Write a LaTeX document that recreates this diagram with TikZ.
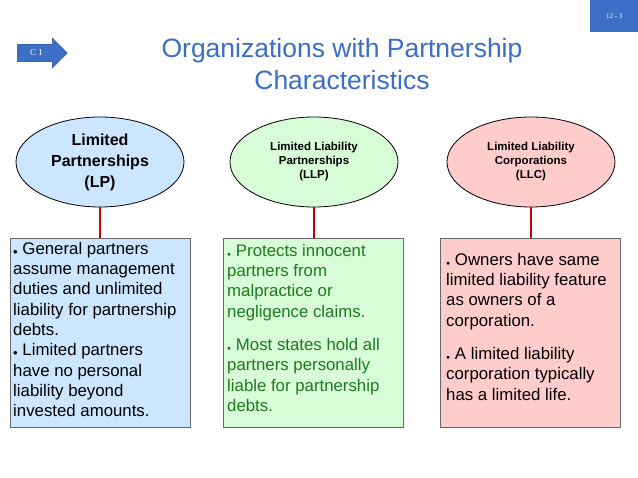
\documentclass[tikz,border=0pt]{standalone}
\usepackage{fontspec}
\setmainfont{Liberation Sans}
\newfontfamily\serifx{Liberation Serif}
\usetikzlibrary{shapes.geometric,shapes.arrows}
\definecolor{ttl}{HTML}{3A6FC4}
\definecolor{hdr}{HTML}{3E6FC6}
\definecolor{lblue}{HTML}{CCE6FF}
\definecolor{lgreen}{HTML}{D8FCD8}
\definecolor{lpink}{HTML}{FFCCCC}
\definecolor{dgreen}{HTML}{1E7A1E}
\tikzset{
 ov/.style={ellipse,draw=black,line width=0.8pt,minimum width=168pt,minimum height=90pt,align=center},
 bx/.style={draw=gray!80!black,line width=1pt,minimum width=180pt,minimum height=189pt,anchor=north west,inner sep=0pt},
 btxt/.style={anchor=north west,align=left,inner sep=0pt,font=\fontsize{16.8}{20.3}\selectfont},
 stem/.style={draw=red!80!black,line width=2.5pt}
}
\begin{document}
\begin{tikzpicture}[x=1pt,y=-1pt]
\useasboundingbox (0,0) rectangle (638,478);
\fill[white] (0,0) rectangle (638,478);
\node[fill=hdr,minimum width=48pt,minimum height=32pt,anchor=north west,text=white,font=\serifx\fontsize{7}{8}\selectfont] (pg) at (590,0) {12 - 3};
\node[single arrow,fill=hdr,draw=hdr!70!black,minimum height=50pt,minimum width=30pt,single arrow head extend=3pt,inner sep=1pt,text=white,font=\serifx\fontsize{9}{10}\selectfont] (c1) at (38,53) {C 1\,\,};
\node[text=ttl,align=center,font=\fontsize{26.5}{32}\selectfont] (title) at (342,64) {Organizations with Partnership\\Characteristics};
\node[ov,fill=lblue,font=\bfseries\fontsize{16}{21}\selectfont] (e1) at (100,162) {Limited\\Partnerships\\(LP)};
\node[ov,fill=lgreen,font=\bfseries\fontsize{11.5}{14}\selectfont] (e2) at (314,162) {Limited Liability\\Partnerships\\(LLP)};
\node[ov,fill=lpink,font=\bfseries\fontsize{11.5}{14}\selectfont] (e3) at (531,162) {Limited Liability\\Corporations\\(LLC)};
\node[bx,fill=lblue] (b1) at (10,238) {};
\node[bx,fill=lgreen] (b2) at (223,238) {};
\node[bx,fill=lpink] (b3) at (440,238) {};
\draw[stem] (e1.south) -- (b1.north-|e1.south);
\draw[stem] (e2.south) -- (b2.north-|e2.south);
\draw[stem] (e3.south) -- (b3.north-|e3.south);
\node[btxt] (t1) at (13,242) {{\small$\bullet$} General partners\\assume management\\duties and unlimited\\liability for partnership\\debts.\\{\small$\bullet$} Limited partners\\have no personal\\liability beyond\\invested amounts.};
\node[btxt,text=dgreen] (t2) at (227,244) {{\scriptsize$\bullet$} Protects innocent\\partners from\\malpractice or\\negligence claims.\\[13pt]{\scriptsize$\bullet$} Most states hold all\\partners personally\\liable for partnership\\debts.};
\node[btxt] (t3) at (446,253) {{\scriptsize$\bullet$} Owners have same\\limited liability feature\\as owners of a\\corporation.\\[13pt]{\scriptsize$\bullet$} A limited liability\\corporation typically\\has a limited life.};
\end{tikzpicture}
\end{document}
